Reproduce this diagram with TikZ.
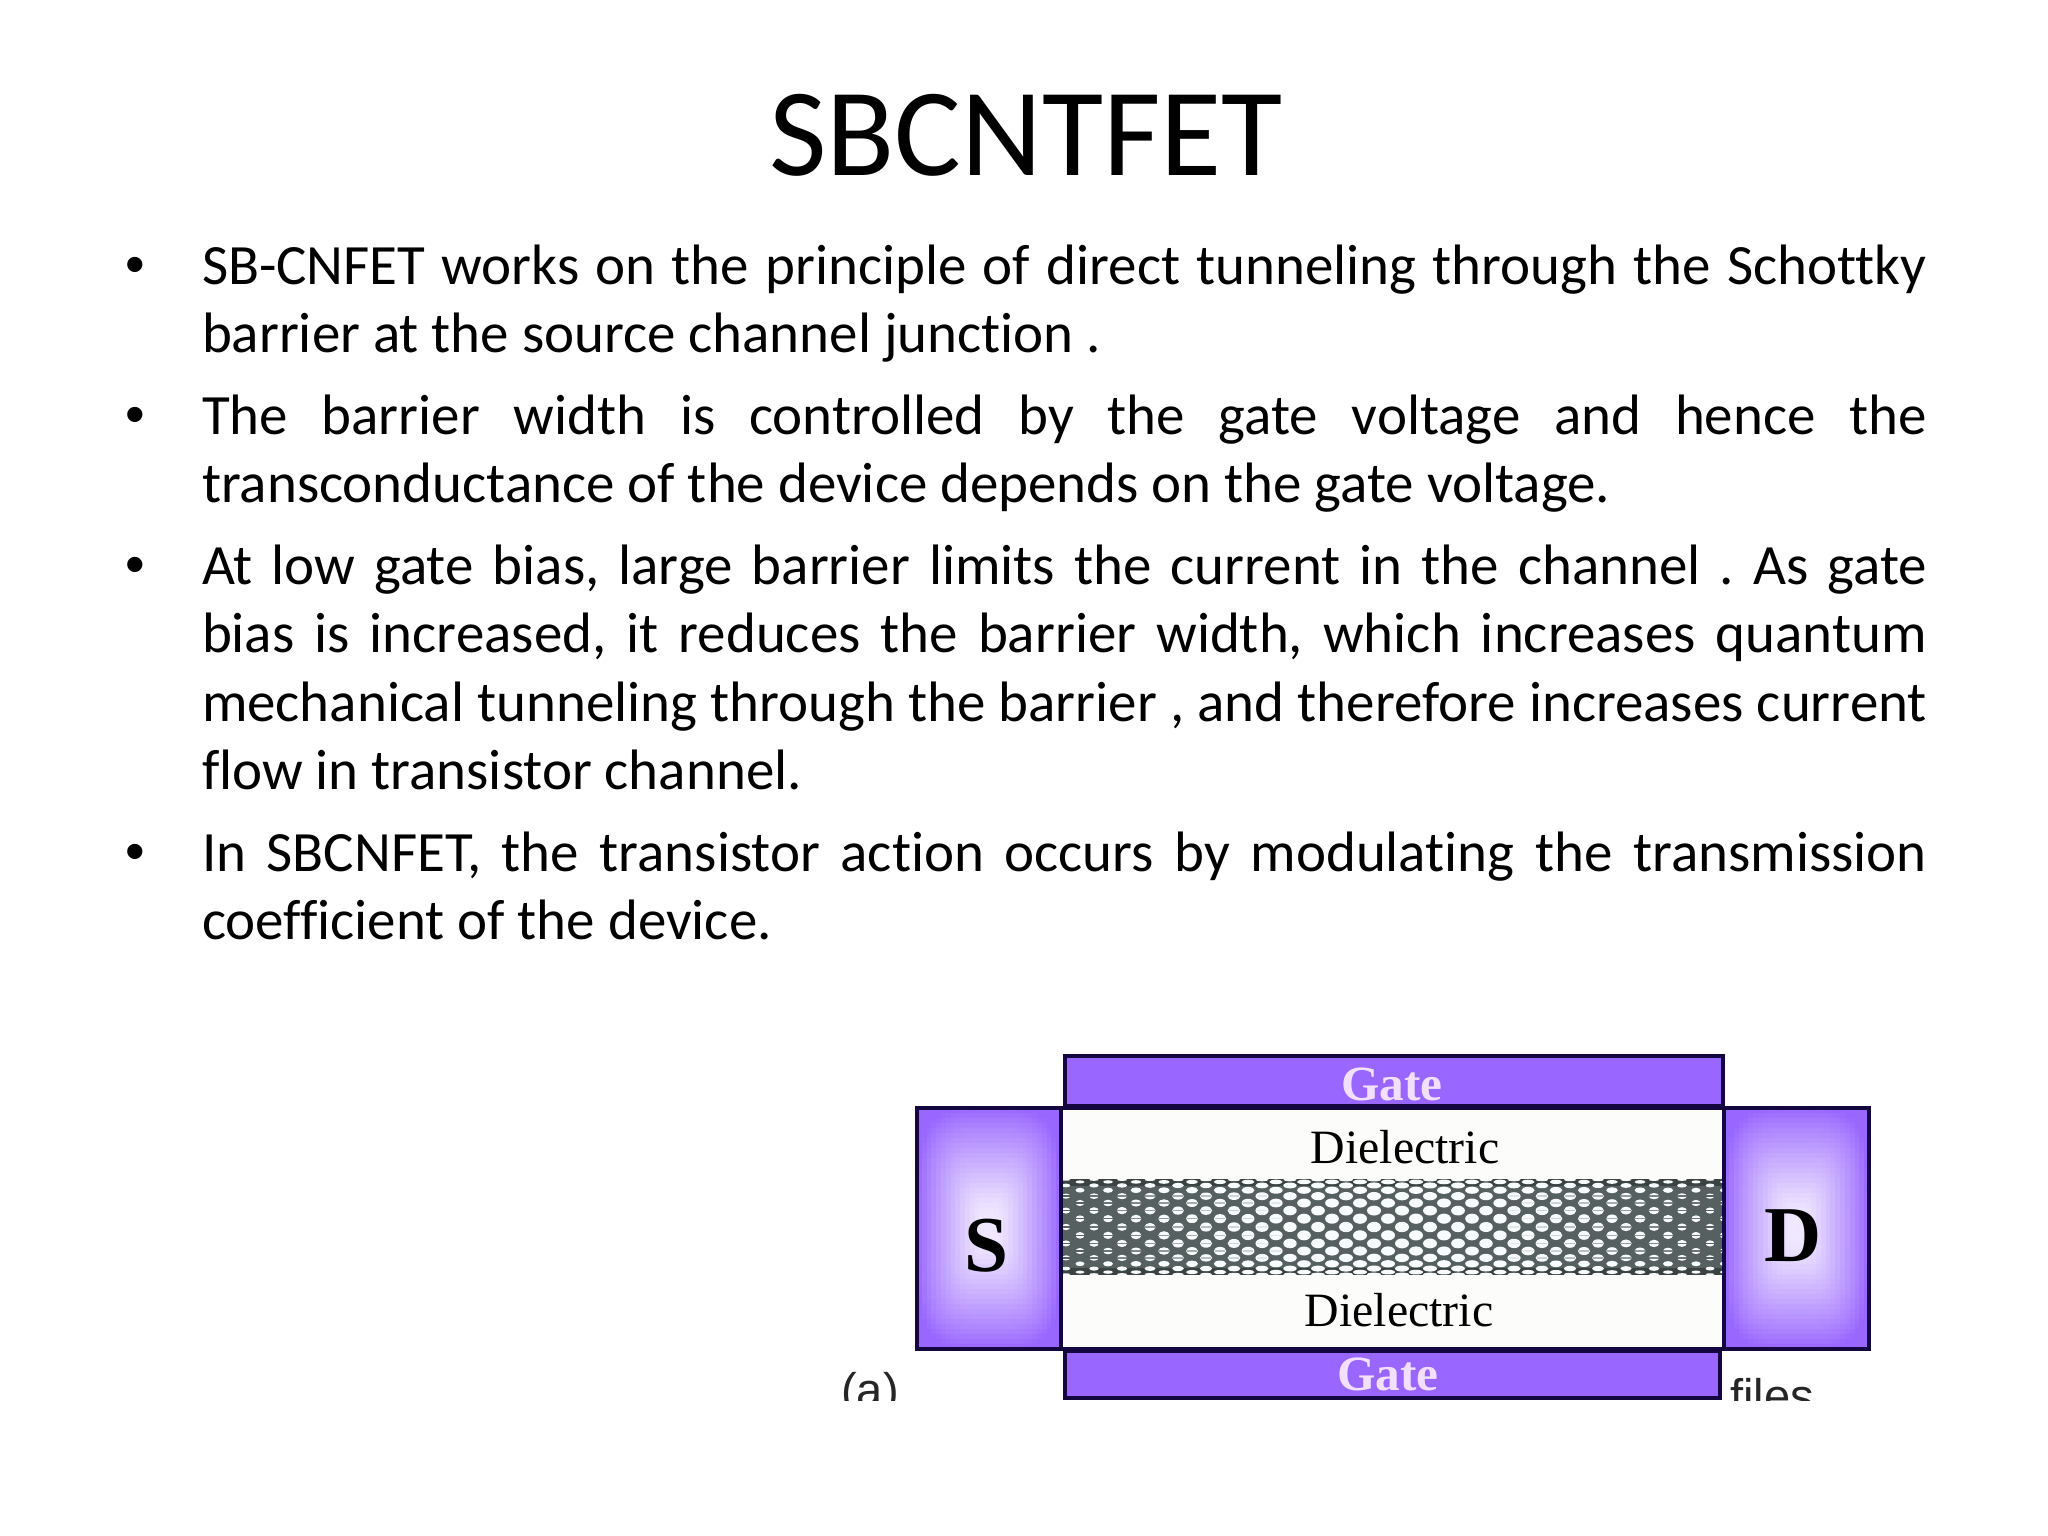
\documentclass[tikz,border=0pt]{standalone}
\usepackage{fontspec}
\setmainfont[Ligatures=NoCommon,RawFeature={-liga;-clig;-dlig}]{Carlito}
\newfontfamily\tnr{Liberation Serif}
\newfontfamily\arl{Liberation Sans}
\frenchspacing
\definecolor{fetpurple}{HTML}{9966FF}
\definecolor{fetedge}{HTML}{14063F}
\definecolor{fetlabel}{HTML}{F3E0FF}
\definecolor{fetgrey}{HTML}{566060}
\definecolor{fetgreyd}{HTML}{3A4242}
\definecolor{fethole}{HTML}{F8FBFB}
\definecolor{fetdiel}{HTML}{FCFCFA}
\newlength{\linew}\setlength{\linew}{490.5pt}
\newcommand{\jl}[1]{\makebox[\linew][s]{#1}}
\tikzset{
  bodyline/.style={anchor=base west,inner sep=0pt,outer sep=0pt,font=\fontsize{16.2pt}{19pt}\selectfont,text=black},
  bulletmark/.style={anchor=base,inner sep=0pt,outer sep=0pt,font=\arl\fontsize{15.93pt}{19pt}\selectfont,text=black},
  fetbox/.style={anchor=north west,inner sep=0pt,outer sep=0pt,draw=fetedge,line width=1.1pt},
  fetgate/.style={fetbox,fill=fetpurple},
  gatelabel/.style={anchor=base,inner sep=0pt,outer sep=0pt,font=\tnr\bfseries\fontsize{14pt}{16pt}\selectfont,text=fetlabel},
  diellabel/.style={anchor=base,inner sep=0pt,outer sep=0pt,font=\tnr\fontsize{13.6pt}{16pt}\selectfont,text=black},
  contactlabel/.style={anchor=base,inner sep=0pt,outer sep=0pt,font=\tnr\bfseries\fontsize{22.5pt}{24pt}\selectfont,text=black},
  cutlabel/.style={anchor=base,inner sep=0pt,outer sep=0pt,font=\arl\fontsize{13.4pt}{16pt}\selectfont,text=black!85}
}
\begin{document}
\begin{tikzpicture}[x=0.01cm,y=-0.01cm]
\useasboundingbox[fill=white] (0,0) rectangle (2048,1536);
% title
\node[anchor=base,inner sep=0pt,font=\fontsize{35.6pt}{40pt}\selectfont] (title) at (1026,175) {SBCNTFET};
% bullets
\node[bulletmark] (b1) at (135,283) {•};
\node[bulletmark] (b2) at (135,433) {•};
\node[bulletmark] (b3) at (135,583) {•};
\node[bulletmark] (b4) at (135,870) {•};
% body text
\node[bodyline] (l1) at (202,284) {\jl{SB-CNFET works on the principle of direct tunneling through the Schottky}};
\node[bodyline] (l2) at (202,352) {barrier at the source channel junction .};
\node[bodyline] (l3) at (202,434) {\jl{The barrier width is controlled by the gate voltage and hence the}};
\node[bodyline] (l4) at (202,502) {transconductance of the device depends on the gate voltage.};
\node[bodyline] (l5) at (202,584) {\jl{At low gate bias, large barrier limits the current in the channel . As gate}};
\node[bodyline] (l6) at (202,652) {\jl{bias is increased, it reduces the barrier width, which increases quantum}};
\node[bodyline] (l7) at (202,721) {\jl{mechanical tunneling through the barrier , and therefore increases current}};
\node[bodyline] (l8) at (202,789) {flow in transistor channel.};
\node[bodyline] (l9) at (202,871) {\jl{In SBCNFET, the transistor action occurs by modulating the transmission}};
\node[bodyline] (l10) at (202,939) {coefficient of the device.};
% source and drain gradients: rounded rectangular fade from the centre
\foreach \xa/\xb in {917/1061,1724/1869}{
  \pgfmathsetmacro{\cw}{(\xb-\xa)/30}
  \foreach \ix in {0,...,29}{
    \pgfmathsetmacro{\xc}{\xa+(\ix+0.5)*\cw}
    \pgfmathsetmacro{\uu}{abs(\xc-(\xa+\xb)/2)/((\xb-\xa)/2)}
    \foreach \iy in {0,...,47}{
      \pgfmathsetmacro{\yc}{1108+(\iy+0.5)*241/48}
      \pgfmathsetmacro{\vv}{abs(\yc-1228.5)/120.5}
      \pgfmathsetmacro{\dd}{sqrt(sqrt(\uu*\uu*\uu*\uu+\vv*\vv*\vv*\vv+0.0005))}
      \pgfmathsetmacro{\pc}{100-98*max(0.001,1-\dd)^0.9}
      \colorlet{ringcol}{fetpurple!\pc!white}
      \fill[ringcol] ({\xa+\ix*\cw},{1108+\iy*241/48}) rectangle ({min(\xb,\xa+(\ix+1)*\cw+1)},{min(1349,1108+(\iy+1)*241/48+1)});
    }
  }
}
\node[fetbox,minimum width=1.44cm,minimum height=2.41cm] (src) at (917,1108) {};
\node[fetbox,minimum width=1.45cm,minimum height=2.41cm] (drn) at (1724,1108) {};
% dielectric
\node[fetbox,fill=fetdiel,minimum width=6.63cm,minimum height=2.41cm] (diel) at (1061,1108) {};
% channel
\begin{scope}
\clip (1063,1179) rectangle (1722,1275);
\fill[fetgrey] (1063,1179) rectangle (1722,1275);
\fill[fetgreyd] (1063,1179) rectangle (1722,1186);
\fill[fetgreyd] (1063,1268) rectangle (1722,1275);
\foreach \k in {-8,...,8}{
  \pgfmathsetmacro{\yy}{1227+48*sin(10*\k)}
  \pgfmathsetmacro{\xo}{1066+14*mod(abs(\k),2)}
  \pgfmathsetmacro{\ry}{0.9+4.3*cos(10*\k)}
  \foreach \j in {0,...,23}{
    \pgfmathsetmacro{\xx}{\xo+28*\j}
    \pgfmathsetmacro{\fe}{1-0.4*(abs(\xx-1392)/330)^2}
    \fill[fethole] (\xx,\yy) ellipse [x radius={7*\fe},y radius={\ry*\fe}];
  }
}
% back wall seen through the tube near the ends
\foreach \k in {-4,...,4}{
  \pgfmathsetmacro{\yy}{1227+48*sin(10*\k)}
  \pgfmathsetmacro{\xo}{1066+14*mod(abs(\k),2)}
  \foreach \j in {0,...,7}{
    \pgfmathsetmacro{\xl}{\xo+28*\j}
    \pgfmathsetmacro{\xr}{\xo+28*(23-\j)}
    \pgfmathsetmacro{\op}{1-\j/8}
    \draw[fetgrey,line width=0.45pt,opacity=\op] ({\xl-5},\yy) -- ({\xl+5},\yy);
    \draw[fetgrey,line width=0.45pt,opacity=\op] ({\xr-5},\yy) -- ({\xr+5},\yy);
  }
}
\end{scope}
% gates
\node[fetgate,minimum width=6.58cm,minimum height=0.5cm] (gtop) at (1065,1056) {};
\node[fetgate,minimum width=6.55cm,minimum height=0.47cm] (gbot) at (1065,1351) {};
% labels
\node[gatelabel] (gtoplab) at (1392,1100) {Gate};
\node[gatelabel] (gbotlab) at (1388,1390) {Gate};
\node[diellabel] (dtop) at (1405,1163) {Dielectric};
\node[diellabel] (dbot) at (1399,1326) {Dielectric};
\node[contactlabel] (srclab) at (986,1271) {S};
\node[contactlabel] (drnlab) at (1793,1261) {D};
% clipped caption fragments
\begin{scope}
\clip (800,1360) rectangle (1900,1400);
\node[cutlabel] (capa) at (870,1406) {(a)};
\node[cutlabel] (capf) at (1772,1412) {files};
\end{scope}
\end{tikzpicture}
\end{document}
